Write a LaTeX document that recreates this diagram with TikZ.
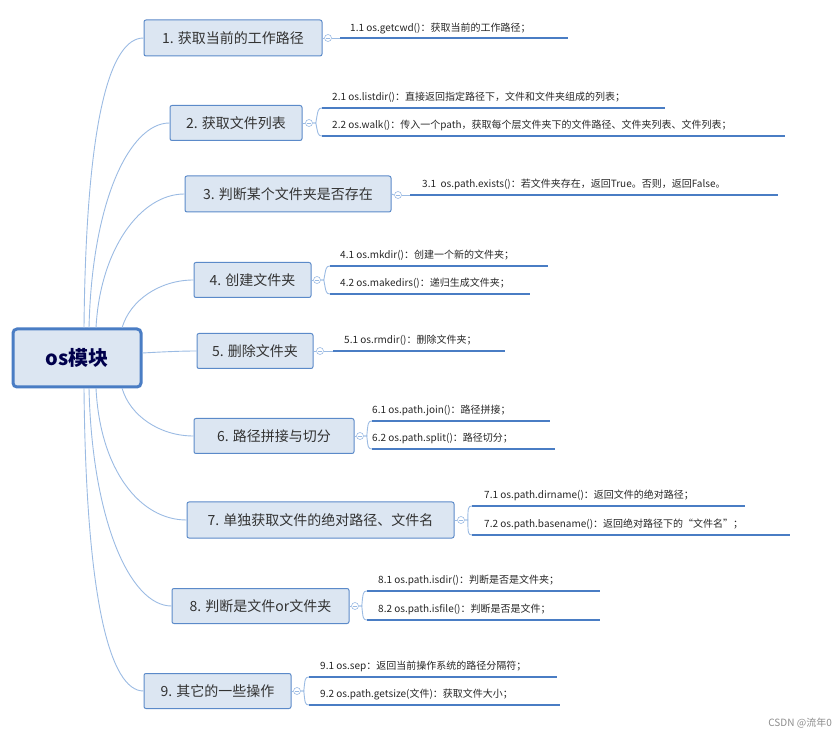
\documentclass[tikz,border=0pt]{standalone}
\usepackage{fontspec}
\setmainfont{Noto Sans CJK SC}
\definecolor{cline}{HTML}{9BBBE3}
\definecolor{bord}{HTML}{5B8AC9}
\definecolor{bfill}{HTML}{DCE6F2}
\definecolor{lline}{HTML}{4A7DC4}
\definecolor{rootb}{HTML}{4A7DC4}
\begin{document}
\begin{tikzpicture}[x=1pt,y=-1pt,
  conn/.style={draw=cline, line width=0.9pt},
  br/.style={draw=bord, line width=1pt, fill=bfill, rounded corners=2pt, inner sep=0pt, font=\fontsize{14}{16}\selectfont, text=black!80},
  leafline/.style={draw=lline, line width=1.6pt},
  leaftext/.style={anchor=south west, inner sep=0pt, font=\fontsize{10}{12}\selectfont, text=black!85},
  knob/.style={circle, draw=cline, line width=0.6pt, minimum size=7pt, inner sep=0pt}]
\useasboundingbox (0,0) rectangle (839,735);
\node[draw=rootb, line width=3pt, fill=bfill, rounded corners=4pt, minimum width=128pt, minimum height=58pt, font=\fontsize{20}{24}\selectfont\bfseries, text=black!70!blue] (root) at (77,358) {os模块};
% branches
\node[br, minimum width=178pt, minimum height=36pt] (b1) at (233,38) {1. 获取当前的工作路径};
\node[br, minimum width=132pt, minimum height=35pt] (b2) at (236,123) {2. 获取文件列表};
\node[br, minimum width=206pt, minimum height=36pt] (b3) at (288,194) {3. 判断某个文件夹是否存在};
\node[br, minimum width=117pt, minimum height=35pt] (b4) at (252.5,280) {4. 创建文件夹};
\node[br, minimum width=116pt, minimum height=35pt] (b5) at (255,351) {5. 删除文件夹};
\node[br, minimum width=160pt, minimum height=35pt] (b6) at (274,436) {6. 路径拼接与切分};
\node[br, minimum width=267pt, minimum height=36pt] (b7) at (320.5,520) {7. 单独获取文件的绝对路径、文件名};
\node[br, minimum width=177pt, minimum height=35pt] (b8) at (260.5,606) {8. 判断是文件or文件夹};
\node[br, minimum width=147pt, minimum height=35pt] (b9) at (217.5,691) {9. 其它的一些操作};
% root connectors
\coordinate (r1) at (84,328); \coordinate (r2) at (89,328); \coordinate (r3) at (96,328); \coordinate (r4) at (122,328);
\coordinate (r6) at (122,388); \coordinate (r7) at (96,388); \coordinate (r8) at (89,388); \coordinate (r9) at (84,388);
\draw[conn] (r1) .. controls (86,120) and (110,38) .. (b1.west);
\draw[conn] (r2) .. controls (92,200) and (130,123) .. (b2.west);
\draw[conn] (r3) .. controls (100,250) and (140,194) .. (b3.west);
\draw[conn] (r4) .. controls (130,300) and (160,280) .. (b4.west);
\draw[conn] (root.east) ++(0,-5) .. controls (160,352) and (180,351) .. (b5.west);
\draw[conn] (r6) .. controls (130,416) and (160,436) .. (b6.west);
\draw[conn] (r7) .. controls (100,470) and (140,520) .. (b7.west);
\draw[conn] (r8) .. controls (92,520) and (130,606) .. (b8.west);
\draw[conn] (r9) .. controls (86,600) and (110,691) .. (b9.west);
% knobs
\foreach \b/\x/\y in {b1/328/38,b2/309/123,b3/398/195,b4/317/280,b5/320/351,b6/360/436,b7/461/520,b8/355/606,b9/297/691}{
  \node[knob] (k\b) at (\x,\y) {};
  \draw[conn, line width=0.5pt] (\x-2,\y) -- (\x+2,\y);
  \draw[conn] (\b.east) -- (k\b.west);
}
% single leaves
\coordinate (l1s) at (340,38); \coordinate (l1e) at (568,38);
\draw[conn] (kb1.east) -- (l1s); \draw[leafline] (l1s) -- (l1e);
\node[leaftext] (t1) at (350,34) {1.1 os.getcwd()：获取当前的工作路径；};
\coordinate (l3s) at (410,195); \coordinate (l3e) at (778,195);
\draw[conn] (kb3.east) -- (l3s); \draw[leafline] (l3s) -- (l3e);
\node[leaftext] (t3) at (422,190) {3.1\ \ os.path.exists()：若文件夹存在，返回True。否则，返回False。};
\coordinate (l5s) at (333,351); \coordinate (l5e) at (505,351);
\draw[conn] (kb5.east) -- (l5s); \draw[leafline] (l5s) -- (l5e);
\node[leaftext] (t5) at (344,346) {5.1 os.rmdir()：删除文件夹；};
% forked leaves
\foreach \b/\xs/\ya/\yb/\ea/\eb/\tx/\ta/\tb in {
 b2/322/108/136/665/785/332/{2.1 os.listdir()：直接返回指定路径下，文件和文件夹组成的列表；}/{2.2 os.walk()：传入一个path，获取每个层文件夹下的文件路径、文件夹列表、文件列表；},
 b4/330/266/294/548/530/340/{4.1 os.mkdir()：创建一个新的文件夹；}/{4.2 os.makedirs()：递归生成文件夹；},
 b6/372/421/449/550/555/372/{6.1 os.path.join()：路径拼接；}/{6.2 os.path.split()：路径切分；},
 b7/472/506/535/745/790/484/{7.1 os.path.dirname()：返回文件的绝对路径；}/{7.2 os.path.basename()：返回绝对路径下的“文件名”；},
 b8/367/591/620/600/600/378/{8.1 os.path.isdir()：判断是否是文件夹；}/{8.2 os.path.isfile()：判断是否是文件；},
 b9/309/677/705/557/560/320/{9.1 os.sep：返回当前操作系统的路径分隔符；}/{9.2 os.path.getsize(文件)：获取文件大小；}}{
  \coordinate (\b as) at (\xs,\ya); \coordinate (\b bs) at (\xs,\yb);
  \draw[conn] (k\b.east) -- ++(3,0) .. controls (\xs-4,\ya+2) and (\xs-4,\ya) .. (\b as);
  \draw[conn] (k\b.east) -- ++(3,0) .. controls (\xs-4,\yb-2) and (\xs-4,\yb) .. (\b bs);
  \draw[leafline] (\b as) -- (\ea,\ya);
  \draw[leafline] (\b bs) -- (\eb,\yb);
  \node[leaftext] (\b ta) at (\tx,\ya-5) {\ta};
  \node[leaftext] (\b tb) at (\tx,\yb-5) {\tb};
}
\node[anchor=south east, inner sep=0pt, font=\fontsize{10}{12}\selectfont, text=black!45] (wm) at (832,728) {CSDN @流年0};
\end{tikzpicture}
\end{document}
